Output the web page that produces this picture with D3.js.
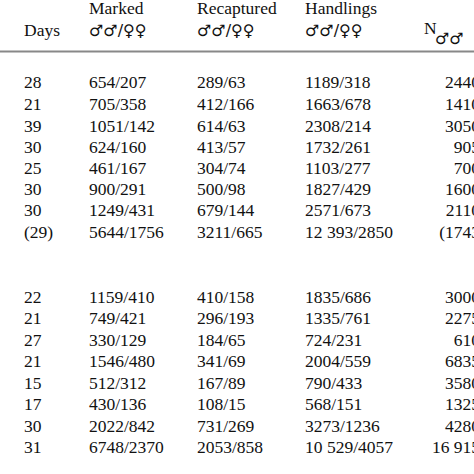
<!DOCTYPE html>
<html><head><meta charset="utf-8">
<script src="https://cdn.jsdelivr.net/npm/d3@7"></script>
<style>body{margin:0;background:#fff}</style></head>
<body><svg id="c" width="474" height="474"></svg>
<script>
const days = ["28","21","39","30","25","30","30","(29)","22","21","27","21","15","17","30","31"];
const marked = ["654/207","705/358","1051/142","624/160","461/167","900/291","1249/431","5644/1756","1159/410","749/421","330/129","1546/480","512/312","430/136","2022/842","6748/2370"];
const recaptured = ["289/63","412/166","614/63","413/57","304/74","500/98","679/144","3211/665","410/158","296/193","184/65","341/69","167/89","108/15","731/269","2053/858"];
const handlings = ["1189/318","1663/678","2308/214","1732/261","1103/277","1827/429","2571/673","12 393/2850","1835/686","1335/761","724/231","2004/559","790/433","568/151","3273/1236","10 529/4057"];
const nMales = ["2440","1410","3050","905","700","1600","2110","(1743","3000","2275","610","6835","3580","1325","4280","16 915"];
const rowY = [88,110,132,153,174,195,216,238,303,324,346,367,389,410,432,453];

const svg = d3.select("#c");
const font = "'Liberation Serif','Times New Roman',serif";
const g = svg.append("g").attr("font-family", font).attr("font-size", 17.5).attr("fill", "#111");
const hdr = [{x:89, t:"Marked"},{x:197, t:"Recaptured"},{x:305, t:"Handlings"}];
g.selectAll("text.h1").data(hdr).join("text").attr("x",d=>d.x).attr("y",14).text(d=>d.t);
g.append("text").attr("x",24).attr("y",36).text("Days");
g.selectAll("text.h2").data([89,197,305]).join("text").attr("x",d=>d).attr("y",36).attr("font-family","'DejaVu Sans',sans-serif").attr("font-size",16).text("♂♂/♀♀");
g.append("text").attr("x",424).attr("y",34).text("N");
g.append("text").attr("x",435).attr("y",44).attr("font-family","'DejaVu Sans',sans-serif").attr("font-size",16).text("♂♂");
svg.append("line").attr("x1",0).attr("x2",474).attr("y1",51.5).attr("y2",51.5).attr("stroke","#888").attr("stroke-width",2);

const cols = [{x:24,d:days,a:"start"},{x:89,d:marked,a:"start"},{x:197,d:recaptured,a:"start"},{x:305,d:handlings,a:"start"},{x:480,d:nMales,a:"end"}];
cols.forEach(c=>{
  g.append("g").selectAll("text").data(c.d).join("text")
   .attr("x",c.x).attr("y",(d,i)=>rowY[i]).attr("text-anchor",c.a).text(d=>d);
});
</script></body></html>
